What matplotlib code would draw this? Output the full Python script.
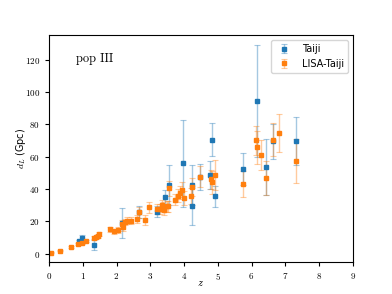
import matplotlib
matplotlib.use("Agg")
import matplotlib.pyplot as plt

plt.rcParams['font.family'] = 'serif'
plt.rcParams['font.serif'] = ['cmr10', 'DejaVu Serif']
plt.rcParams['mathtext.fontset'] = 'cm'
plt.rcParams['axes.formatter.use_mathtext'] = True

# Taiji
z_taiji = [0.90, 0.99, 1.33, 2.16, 2.68, 3.21, 3.45, 3.55, 3.97, 4.23,
           4.25, 4.47, 4.78, 4.82, 4.92, 5.75, 6.16, 6.42, 6.63, 7.32]
d_taiji = [7.5, 9.4, 5.2, 18.8, 25.6, 26.0, 34.8, 42.3, 55.9, 42.5,
           29.2, 47.3, 48.6, 70.4, 35.4, 52.5, 94.4, 53.6, 69.4, 69.8]
e_taiji = [1.0, 2.0, 3.2, 9.2, 3.6, 3.5, 4.3, 12.5, 27.0, 12.5,
           11.5, 8.0, 8.5, 10.3, 6.5, 10.0, 34.5, 17.5, 11.0, 14.8]

# LISA-Taiji
z_lt = [0.06, 0.33, 0.65, 0.87, 0.99, 1.11, 1.33, 1.39, 1.44, 1.49,
        1.82, 1.93, 2.03, 2.16, 2.19, 2.26, 2.32, 2.43, 2.62, 2.68,
        2.85, 2.97, 3.21, 3.29, 3.34, 3.39, 3.42, 3.49, 3.54, 3.56,
        3.74, 3.82, 3.89, 3.94, 3.99, 4.21, 4.25, 4.47, 4.79, 4.83,
        4.92, 5.75, 6.14, 6.16, 6.29, 6.42, 6.63, 6.80, 7.32]
d_lt = [0.4, 1.9, 4.0, 6.0, 6.7, 7.9, 9.8, 10.0, 11.0, 12.0,
        15.0, 13.8, 14.6, 18.0, 16.2, 19.4, 20.4, 20.2, 21.3, 25.6,
        20.9, 28.6, 27.4, 27.7, 29.8, 28.7, 26.8, 29.2, 29.2, 40.3,
        33.4, 35.9, 37.5, 39.6, 34.4, 35.4, 41.0, 47.6, 45.9, 44.0,
        48.6, 43.1, 70.2, 65.6, 61.0, 46.9, 70.5, 74.6, 57.3]
e_lt = [0.3, 0.4, 0.5, 0.6, 0.7, 0.8, 1.0, 1.0, 1.2, 1.2,
        1.5, 1.5, 1.6, 2.5, 2.2, 2.0, 2.3, 2.2, 2.5, 3.5,
        3.0, 3.5, 3.0, 3.0, 3.5, 3.0, 3.0, 3.5, 3.5, 4.5,
        3.5, 4.0, 4.0, 4.5, 4.5, 5.0, 5.5, 6.5, 6.0, 7.0,
        9.0, 8.0, 9.0, 10.0, 9.5, 10.5, 10.0, 12.0, 13.5]

fig, ax = plt.subplots(figsize=(3.92, 2.94), dpi=100)

for z, d, e, lab, col in [(z_taiji, d_taiji, e_taiji, 'Taiji', 'tab:blue'),
                          (z_lt, d_lt, e_lt, 'LISA-Taiji', 'tab:orange')]:
    eb = ax.errorbar(z, d, yerr=e, fmt='s', ms=2.5, color=col, ecolor=col,
                     elinewidth=1.0, capsize=2, capthick=0.8, label=lab)
    for c in eb[1]:
        c.set_alpha(0.4)
    for b in eb[2]:
        b.set_alpha(0.4)

ax.set_xlim(0, 9)
ax.set_ylim(-5, 135)
ax.set_xticks(range(0, 10))
ax.set_yticks([0, 20, 40, 60, 80, 100, 120])
ax.tick_params(direction='out', length=3, labelsize=6.5)
ax.set_xlabel('$z$', fontsize=7.5, labelpad=-2)
ax.set_ylabel('$d_L$ (Gpc)', fontsize=7, family='DejaVu Sans', labelpad=-2)
ax.text(0.09, 0.88, 'pop III', transform=ax.transAxes, fontsize=9)
ax.legend(loc='upper right', prop={'family': 'DejaVu Sans', 'size': 7})

fig.savefig('out.png', dpi=100)
